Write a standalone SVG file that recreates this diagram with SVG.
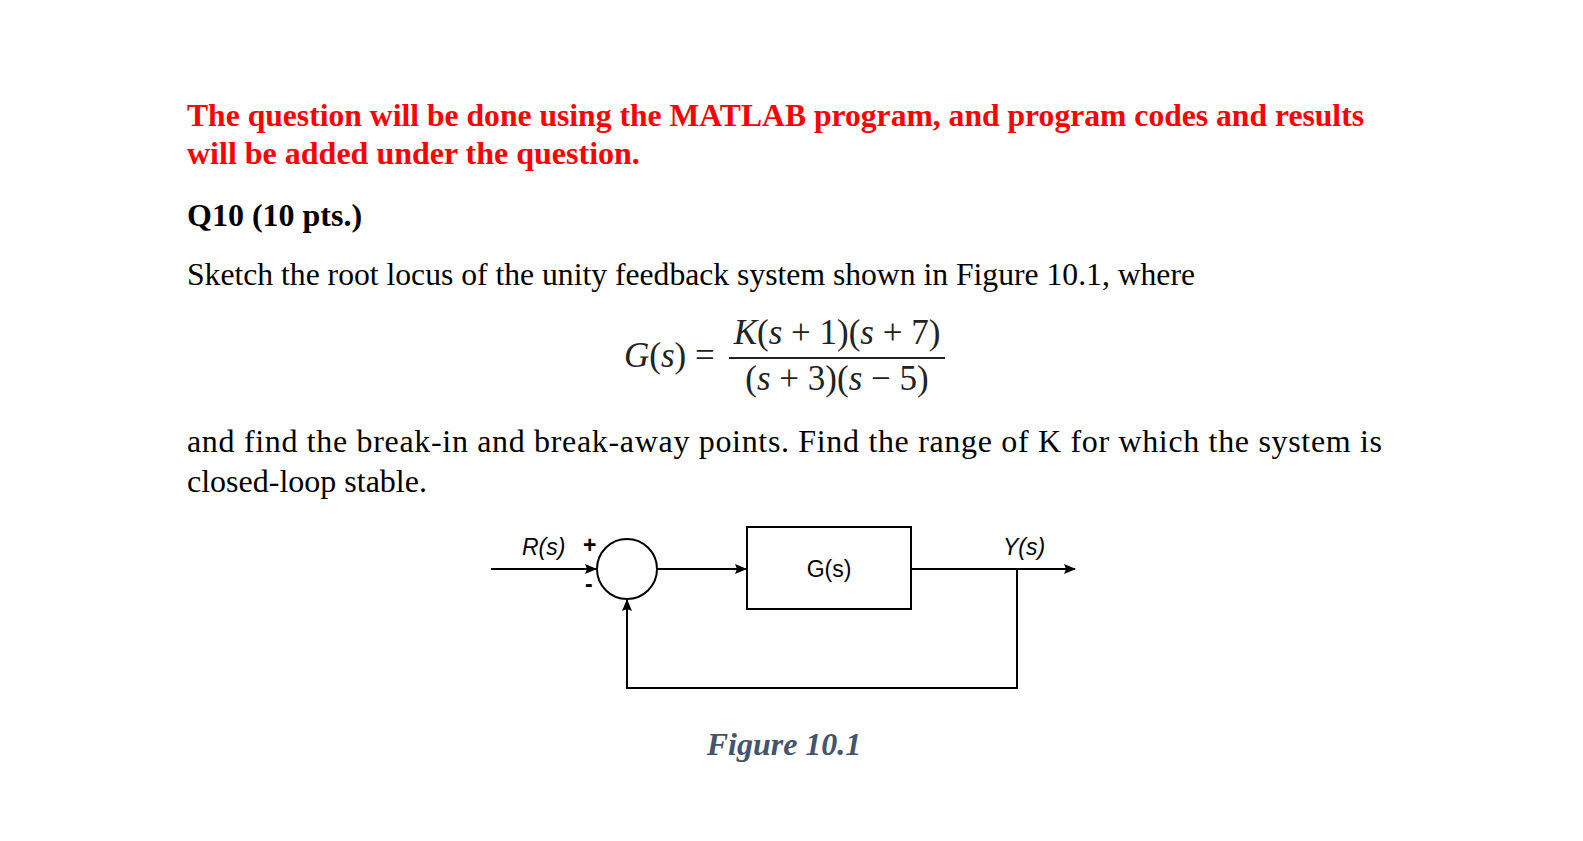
<svg xmlns="http://www.w3.org/2000/svg" width="1583" height="841" viewBox="0 0 1583 841">
<defs>
<style>
.t{font-family:"Liberation Serif",serif;font-size:32px;fill:#000}
.red{font-weight:bold;fill:#ff0000}
.m{font-family:"Liberation Serif",serif;font-size:35px;fill:#222}
.d{font-family:"Liberation Sans",Arial,sans-serif;font-size:23px;fill:#000}
.ln{stroke:#000;stroke-width:2;fill:none}
</style>
<marker id="ah" markerWidth="12" markerHeight="10" refX="11" refY="5" orient="auto" markerUnits="userSpaceOnUse"><path d="M0,0 L12,5 L0,10 L2,5 Z" fill="#000"/></marker>
</defs>
<rect width="1583" height="841" fill="#fff"/>
<text class="t red" x="187" y="126" textLength="1177" lengthAdjust="spacingAndGlyphs">The question will be done using the MATLAB program, and program codes and results</text>
<text class="t red" x="187" y="164">will be added under the question.</text>
<text class="t" x="187" y="226" font-weight="bold">Q10 (10 pts.)</text>
<text class="t" x="187" y="285" textLength="1008" lengthAdjust="spacingAndGlyphs">Sketch the root locus of the unity feedback system shown in Figure 10.1, where</text>
<text class="m" x="624" y="367"><tspan font-style="italic">G</tspan>(<tspan font-style="italic">s</tspan>) =</text>
<text class="m" x="837" y="344" text-anchor="middle"><tspan font-style="italic">K</tspan>(<tspan font-style="italic">s</tspan> + 1)(<tspan font-style="italic">s</tspan> + 7)</text>
<line x1="729" y1="358" x2="945" y2="358" stroke="#222" stroke-width="2"/>
<text class="m" x="837" y="390" text-anchor="middle">(<tspan font-style="italic">s</tspan> + 3)(<tspan font-style="italic">s</tspan> − 5)</text>
<text class="t" x="187" y="452" textLength="1195" lengthAdjust="spacing">and find the break-in and break-away points. Find the range of K for which the system is</text>
<text class="t" x="187" y="492">closed-loop stable.</text>
<g id="connectors">
<line class="ln" x1="491" y1="569" x2="596" y2="569" marker-end="url(#ah)"/>
<line class="ln" x1="657" y1="569" x2="746" y2="569" marker-end="url(#ah)"/>
<line class="ln" x1="911" y1="569" x2="1075" y2="569" marker-end="url(#ah)"/>
<polyline class="ln" points="1017,569 1017,688 627,688 627,600" marker-end="url(#ah)"/>
</g>
<g id="sum"><circle class="ln" cx="627" cy="569" r="30"/></g>
<g id="G"><rect class="ln" x="747" y="527" width="164" height="82"/><text class="d" x="829" y="577" text-anchor="middle">G(s)</text></g>
<text class="d" x="522" y="555" font-style="italic">R(s)</text>
<text class="d" x="583" y="553" font-weight="bold" font-size="18">+</text>
<text class="d" x="585" y="592" font-weight="bold" font-size="18">-</text>
<text class="d" x="1003" y="555" font-style="italic">Y(s)</text>
<text class="t" x="784" y="755" text-anchor="middle" font-style="italic" font-weight="bold" style="fill:#44546a">Figure 10.1</text>
</svg>
